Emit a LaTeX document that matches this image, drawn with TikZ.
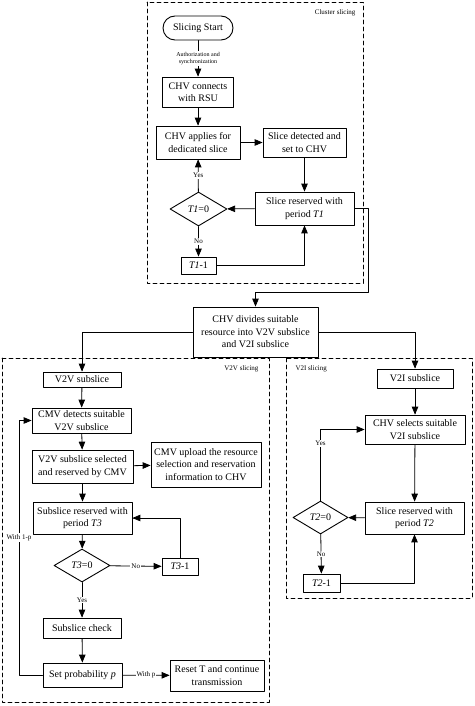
\documentclass[tikz,border=0pt]{standalone}
\usepackage{fontspec}
\setmainfont{Liberation Serif}
\usetikzlibrary{arrows,shapes.geometric}

\begin{document}
\begin{tikzpicture}[line cap=round,line join=round,>=triangle 45,x=1pt,y=-1pt,
  box/.style={draw,line width=0.9pt,align=center,inner sep=1pt,font=\fontsize{10}{12.5}\selectfont},
  cond/.style={draw,diamond,line width=0.9pt,inner sep=0pt,font=\fontsize{10}{12}\selectfont},
  area/.style={draw,line width=0.9pt,dash pattern=on 4pt off 3pt},
  arealabel/.style={font=\fontsize{7}{8}\selectfont},
  flow/.style={->,line width=0.8pt},
  lab/.style={fill=white,inner sep=1pt,font=\fontsize{7}{8}\selectfont}]
\useasboundingbox (0,0) rectangle (474,706);
% slicing areas
\draw[area] (147,2) rectangle (363,283);
\draw[area] (2,358) rectangle (269,702);
\draw[area] (286,358) rectangle (472,598);
\node[arealabel,anchor=east] at (359,13) {Cluster slicing};
\node[arealabel,anchor=east] at (262,369) {V2V slicing};
\node[arealabel,anchor=west] at (292,369) {V2I slicing};
% cluster slicing
\node[box,rounded corners=12pt,minimum width=70pt,minimum height=24pt] (start) at (198,28) {Slicing Start};
\node[box,minimum width=71pt,minimum height=30pt] (chvrsu) at (198,92) {CHV connects\\with RSU};
\node[box,minimum width=84pt,minimum height=33pt] (apply) at (198,142.5) {CHV applies for\\dedicated slice};
\node[box,minimum width=83pt,minimum height=29pt] (detect) at (304.5,142.5) {Slice detected and\\set to CHV};
\node[box,minimum width=99pt,minimum height=33pt] (resT1) at (304.5,208.5) {Slice reserved with\\period \textit{T1}};
\node[cond,minimum width=57pt,minimum height=34pt] (dT1) at (198.5,209) {\textit{T1}=0};
\node[box,minimum width=35pt,minimum height=17pt] (T1m) at (198.5,265.5) {\textit{T1}-1};
\node[box,minimum width=125pt,minimum height=50pt] (divide) at (255.5,332) {CHV divides suitable\\resource into V2V subslice\\and V2I subslice};
\coordinate (c1) at (368,292);
% V2V slicing
\node[box,minimum width=78pt,minimum height=15pt] (v2v) at (82,379.5) {V2V subslice};
\node[box,minimum width=99pt,minimum height=25pt] (cmvdet) at (81.5,420.5) {CMV detects suitable\\V2V subslice};
\node[box,minimum width=101pt,minimum height=33pt] (sel) at (82.5,466.5) {V2V subslice selected\\and reserved by CMV};
\node[box,minimum width=110pt,minimum height=45pt] (upload) at (206,464.5) {CMV upload the resource\\selection and reservation\\information to CHV};
\node[box,minimum width=99pt,minimum height=32pt] (resT3) at (82.5,518) {Subslice reserved with\\period \textit{T3}};
\node[cond,minimum width=56pt,minimum height=33pt] (dT3) at (82,565.5) {\textit{T3}=0};
\node[box,minimum width=36pt,minimum height=17pt] (T3m) at (180,566.5) {\textit{T3}-1};
\node[box,minimum width=78pt,minimum height=20pt] (check) at (82,628) {Subslice check};
\node[box,minimum width=79pt,minimum height=24pt] (setp) at (82.5,675) {Set probability \textit{p}};
\node[box,minimum width=94pt,minimum height=31pt] (reset) at (217,675.5) {Reset T and continue\\transmission};
\coordinate (c2) at (19,675);
% V2I slicing
\node[box,minimum width=76pt,minimum height=19pt] (v2i) at (415,378.5) {V2I subslice};
\node[box,minimum width=100pt,minimum height=29pt] (chvsel) at (415,429.5) {CHV selects suitable\\V2I subslice};
\node[box,minimum width=99pt,minimum height=32pt] (resT2) at (414.5,518) {Slice reserved with\\period \textit{T2}};
\node[cond,minimum width=55pt,minimum height=33pt] (dT2) at (320.5,517.5) {\textit{T2}=0};
\node[box,minimum width=37pt,minimum height=18pt] (T2m) at (321.5,583) {\textit{T2}-1};
% connectors
\draw[flow] (start) -- (chvrsu) node[midway,fill=white,inner sep=1pt,align=center,font=\fontsize{6}{7}\selectfont] {Authorization and\\synchronization};
\draw[flow] (chvrsu) -- (apply);
\draw[flow] (apply) -- (detect);
\draw[flow] (detect) -- (resT1);
\draw[flow] (resT1) -- (dT1);
\draw[flow] (dT1) -- (apply) node[lab,midway] {Yes};
\draw[flow] (dT1) -- (T1m) node[lab,midway] {No};
\draw[flow] (T1m) -| (resT1);
\draw[flow] (resT1.east) -| (c1) -| (divide.north);
\draw[flow] (divide.west) -| (v2v.north);
\draw[flow] (divide.east) -| (v2i.north);
\draw[flow] (v2v) -- (cmvdet);
\draw[flow] (cmvdet) -- (sel);
\draw[flow] (sel) -- (upload);
\draw[flow] (sel) -- (resT3);
\draw[flow] (resT3) -- (dT3);
\draw[flow] (dT3) -- (T3m) node[lab,midway] {No};
\draw[flow] (T3m.north) |- (resT3.east);
\draw[flow] (dT3) -- (check) node[lab,midway] {Yes};
\draw[flow] (check) -- (setp);
\draw[flow] (setp) -- (reset) node[lab,midway] {With p};
\draw[flow] (setp.west) -- (c2) |- (cmvdet.west) node[lab,pos=0.27] {With 1-p};
\draw[flow] (v2i) -- (chvsel);
\draw[flow] (chvsel) -- (resT2);
\draw[flow] (resT2) -- (dT2);
\draw[flow] (dT2.north) |- (chvsel.west) node[lab,pos=0.4] {Yes};
\draw[flow] (dT2) -- (T2m) node[lab,midway] {No};
\draw[flow] (T2m) -| (resT2);
\end{tikzpicture}
\end{document}
